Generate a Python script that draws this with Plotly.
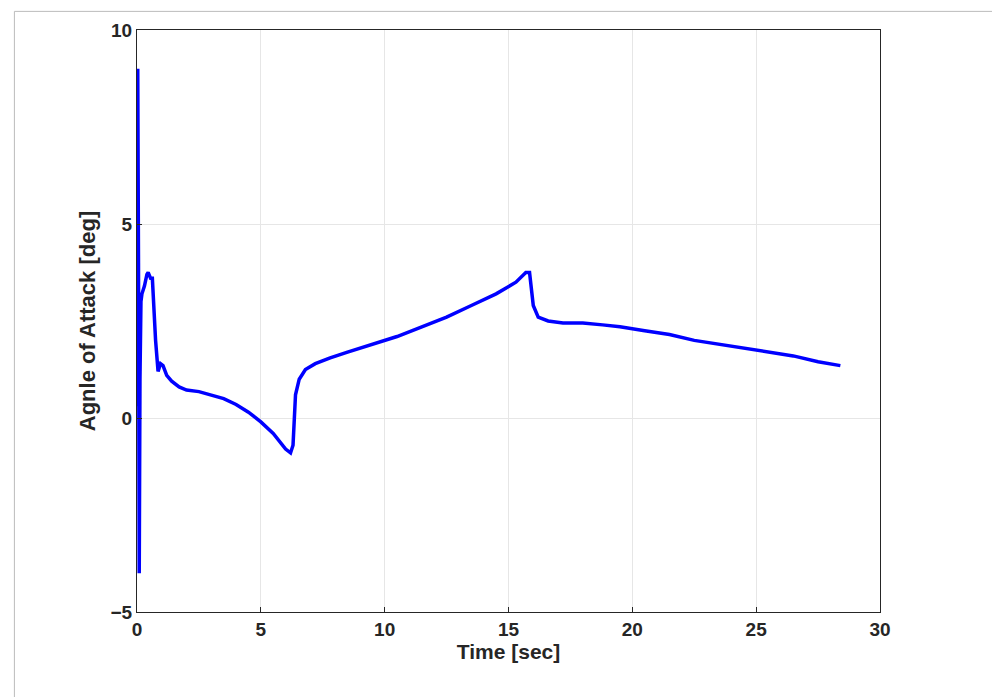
import plotly.graph_objects as go

time = [0, 0.03, 0.06, 0.09, 0.12, 0.16, 0.2, 0.3, 0.4, 0.45, 0.55, 0.62, 0.75, 0.85, 0.95, 1.05, 1.2, 1.4, 1.7, 2.0, 2.5, 3.0, 3.5, 4.0, 4.5, 5.0, 5.5, 6.0, 6.2, 6.3, 6.4, 6.55, 6.8, 7.2, 7.8, 8.5, 9.5, 10.5, 11.5, 12.5, 13.5, 14.5, 15.3, 15.7, 15.85, 16.0, 16.2, 16.6, 17.2, 18.0, 18.8, 19.5, 20.5, 21.5, 22.5, 23.5, 24.5, 25.5, 26.5, 27.5, 28.4]
alpha = [0.3, 9.0, 4.0, -4.0, 1.0, 3.0, 3.2, 3.4, 3.7, 3.75, 3.6, 3.6, 2.0, 1.2, 1.4, 1.35, 1.1, 0.95, 0.8, 0.72, 0.68, 0.6, 0.5, 0.35, 0.15, -0.1, -0.4, -0.8, -0.9, -0.7, 0.6, 1.0, 1.25, 1.4, 1.55, 1.7, 1.9, 2.1, 2.35, 2.6, 2.9, 3.2, 3.5, 3.75, 3.75, 2.9, 2.6, 2.5, 2.45, 2.45, 2.4, 2.35, 2.25, 2.15, 2.0, 1.9, 1.8, 1.7, 1.6, 1.45, 1.35]

fig = go.Figure(go.Scatter(x=time, y=alpha, mode="lines",
                           line=dict(color="#0000FF", width=3.5)))

tf = dict(family="Liberation Sans, Arial", size=19, color="#262626", weight="bold")
ax = dict(showline=True, linecolor="#262626", linewidth=1, mirror=True,
          showgrid=True, gridcolor="#E6E6E6", zeroline=False,
          ticks="inside", ticklen=5, tickcolor="#262626", tickfont=tf)
fig.update_xaxes(range=[0, 30], dtick=5, **ax,
                 title=dict(text="<b>Time [sec]</b>", standoff=4,
                            font=dict(family="Liberation Sans, Arial", size=21, color="#262626")))
fig.update_yaxes(range=[-5, 10], dtick=5, **ax,
                 title=dict(text="<b>Agnle of Attack [deg]</b>", standoff=8,
                            font=dict(family="Liberation Sans, Arial", size=22, color="#262626")))
fig.update_layout(width=1000, height=697, plot_bgcolor="white", paper_bgcolor="white",
                  margin=dict(l=129, r=128, t=22, b=93), showlegend=False,
                  shapes=[dict(type="rect", xref="paper", yref="paper",
                               x0=-0.165, x1=1.162, y0=-0.152, y1=1.032,
                               line=dict(color="#BBBBBB", width=1))])
fig.write_html("out.html")
